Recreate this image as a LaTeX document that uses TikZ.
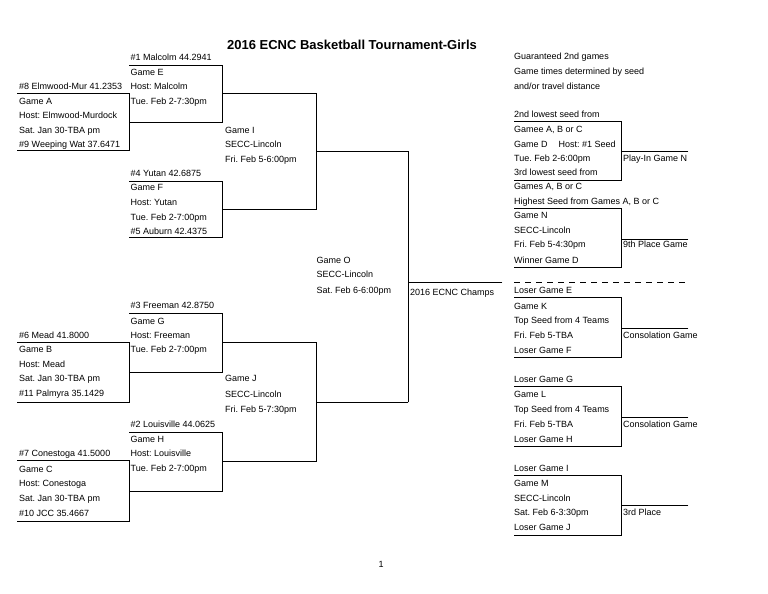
\documentclass[tikz,border=0pt]{standalone}
\usepackage{fontspec}
\setmainfont{Liberation Sans}
\frenchspacing
\begin{document}
\begin{tikzpicture}[x=1pt,y=-1pt,
  t/.style={anchor=base west, inner sep=0pt, font=\fontsize{9}{10}\selectfont},
  ln/.style={line width=0.9pt, line cap=rect}]
\useasboundingbox (0,0) rectangle (768,594);
\newcommand{\tx}[4]{\node[t] (#1) at (#2,#3+3.2) {#4};}
% title
\node[anchor=base, inner sep=0pt, font=\fontsize{13}{14}\selectfont\bfseries] (title) at (352,49.5) {2016 ECNC Basketball Tournament-Girls};
% Game E
\tx{e0}{130.5}{57}{\#1 Malcolm 44.2941}
\tx{e1}{130.5}{72}{Game E}
\tx{e2}{130.5}{86}{Host: Malcolm}
\tx{e3}{130.5}{101}{Tue. Feb 2-7:30pm}
% Game A
\tx{a0}{19}{86}{\#8 Elmwood-Mur 41.2353}
\tx{a1}{19}{101}{Game A}
\tx{a2}{19}{115}{Host: Elmwood-Murdock}
\tx{a3}{19}{130}{Sat. Jan 30-TBA pm}
\tx{a4}{19}{144}{\#9 Weeping Wat 37.6471}
% Game I
\tx{i1}{225}{130}{Game I}
\tx{i2}{225}{144}{SECC-Lincoln}
\tx{i3}{225}{159}{Fri. Feb 5-6:00pm}
% Game F
\tx{f0}{130.5}{173}{\#4 Yutan 42.6875}
\tx{f1}{130.5}{187}{Game F}
\tx{f2}{130.5}{202}{Host: Yutan}
\tx{f3}{130.5}{217}{Tue. Feb 2-7:00pm}
\tx{f4}{130.5}{231}{\#5 Auburn 42.4375}
% Game O
\tx{o1}{316.5}{260}{Game O}
\tx{o2}{316.5}{274}{SECC-Lincoln}
\tx{o3}{316.5}{290}{Sat. Feb 6-6:00pm}
\tx{champ}{410}{292}{2016 ECNC Champs}
% Game G
\tx{g0}{130.5}{305.7}{\#3 Freeman 42.8750}
\tx{g1}{130.5}{321}{Game G}
\tx{g2}{130.5}{335}{Host: Freeman}
\tx{g3}{130.5}{349.3}{Tue. Feb 2-7:00pm}
% Game B
\tx{b0}{19}{335}{\#6 Mead 41.8000}
\tx{b1}{19}{349.3}{Game B}
\tx{b2}{19}{364.3}{Host: Mead}
\tx{b3}{19}{378.3}{Sat. Jan 30-TBA pm}
\tx{b4}{19}{393.3}{\#11 Palmyra 35.1429}
% Game J
\tx{j1}{225}{378.3}{Game J}
\tx{j2}{225}{394.3}{SECC-Lincoln}
\tx{j3}{225}{409}{Fri. Feb 5-7:30pm}
% Game H
\tx{h0}{130.5}{424.3}{\#2 Louisville 44.0625}
\tx{h1}{130.5}{439}{Game H}
\tx{h2}{130.5}{453.3}{Host: Louisville}
\tx{h3}{130.5}{468.7}{Tue. Feb 2-7:00pm}
% Game C
\tx{c0}{19}{453.3}{\#7 Conestoga 41.5000}
\tx{c1}{19}{469.3}{Game C}
\tx{c2}{19}{483.3}{Host: Conestoga}
\tx{c3}{19}{498.3}{Sat. Jan 30-TBA pm}
\tx{c4}{19}{513.3}{\#10 JCC 35.4667}
% right notes
\tx{n1}{514}{56}{Guaranteed 2nd games}
\tx{n2}{514}{71.7}{Game times determined by seed}
\tx{n3}{514}{86.7}{and/or travel distance}
% Game D
\tx{d0}{514}{114.7}{2nd lowest seed from}
\tx{d1}{514}{129}{Gamee A, B or C}
\tx{d2}{514}{144}{Game D}
\tx{d2b}{558.3}{144}{Host: \#1 Seed}
\tx{d3}{514}{158}{Tue. Feb 2-6:00pm}
\tx{d4}{514}{172}{3rd lowest seed from}
\tx{d5}{514}{186.7}{Games A, B or C}
\tx{dl}{623}{158}{Play-In Game N}
% Game N
\tx{m0}{514}{201}{Highest Seed from Games A, B or C}
\tx{m1}{514}{215.7}{Game N}
\tx{m2}{514}{230}{SECC-Lincoln}
\tx{m3}{514}{244.7}{Fri. Feb 5-4:30pm}
\tx{m4}{514}{260}{Winner Game D}
\tx{ml}{623}{244.7}{9th Place Game}
% Game K
\tx{k0}{514}{290.7}{Loser Game E}
\tx{k1}{514}{306}{Game K}
\tx{k2}{514}{320.7}{Top Seed from 4 Teams}
\tx{k3}{514}{335}{Fri. Feb 5-TBA}
\tx{k4}{514}{350}{Loser Game F}
\tx{kl}{623}{335}{Consolation Game}
% Game L
\tx{l0}{514}{379}{Loser Game G}
\tx{l1}{514}{394}{Game L}
\tx{l2}{514}{409}{Top Seed from 4 Teams}
\tx{l3}{514}{424}{Fri. Feb 5-TBA}
\tx{l4}{514}{439}{Loser Game H}
\tx{ll}{623}{424}{Consolation Game}
% Game M
\tx{q0}{514}{468}{Loser Game I}
\tx{q1}{514}{483}{Game M}
\tx{q2}{514}{498}{SECC-Lincoln}
\tx{q3}{514}{512.7}{Sat. Feb 6-3:30pm}
\tx{q4}{514}{527.7}{Loser Game J}
\tx{ql}{623}{512.7}{3rd Place}
% page number
\node[anchor=base, inner sep=0pt, font=\fontsize{9}{10}\selectfont] (pg) at (381,567.5) {1};
% bracket lines, left
\draw[ln] (17,93) -- (129,93) -- (129,150) -- (17,150);
\draw[ln] (129,65) -- (222,65) -- (222,122) -- (129,122);
\draw[ln] (129,181) -- (222,181) -- (222,237) -- (129,237);
\draw[ln] (222,93) -- (316,93) -- (316,209) -- (222,209);
\draw[ln] (316,151) -- (408,151);
\draw[ln] (129,313) -- (222,313) -- (222,372) -- (129,372);
\draw[ln] (17,342) -- (129,342) -- (129,402) -- (17,402);
\draw[ln] (129,432) -- (222,432) -- (222,491) -- (129,491);
\draw[ln] (17,460) -- (129,460) -- (129,521) -- (17,521);
\draw[ln] (222,342) -- (316,342) -- (316,461) -- (222,461);
\draw[ln] (316,402) -- (408,402);
\draw[ln] (408,151) -- (408,402);
\draw[ln] (408,282) -- (502,282);
% right brackets
\draw[ln] (514,121) -- (621,121) -- (621,180) -- (514,180);
\draw[ln] (621,151) -- (688,151);
\draw[ln] (514,208) -- (621,208) -- (621,267) -- (514,267);
\draw[ln] (621,239) -- (688,239);
\draw[line width=0.9pt, dash pattern=on 5.5pt off 5.5pt] (514,282.7) -- (688,282.7);
\draw[ln] (514,297.7) -- (621,297.7) -- (621,357.3) -- (514,357.3);
\draw[ln] (621,328.3) -- (688,328.3);
\draw[ln] (514,386.7) -- (621,386.7) -- (621,446.7) -- (514,446.7);
\draw[ln] (621,417) -- (688,417);
\draw[ln] (514,475.7) -- (621,475.7) -- (621,535) -- (514,535);
\draw[ln] (621,505.7) -- (688,505.7);
\end{tikzpicture}
\end{document}
